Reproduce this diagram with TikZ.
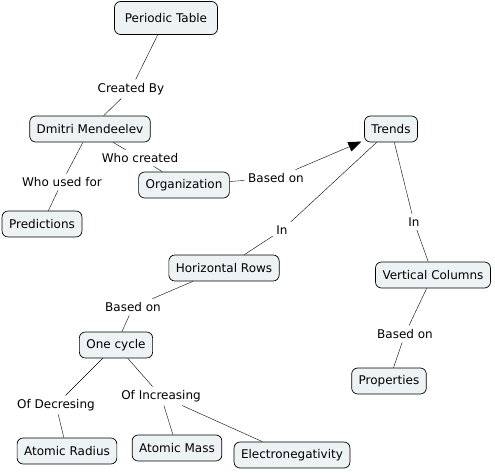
\documentclass[tikz,border=0pt]{standalone}
\usepackage{fontspec}
\setmainfont{DejaVu Sans}
\usetikzlibrary{arrows.meta}
\definecolor{boxfill}{HTML}{EDF2F4}

\begin{document}
\begin{tikzpicture}[x=1pt,y=-1pt,>={Triangle[length=13pt,width=10pt]},
    concept/.style={draw=black,line width=0.7pt,rounded corners=6pt,fill=boxfill,minimum height=26pt,
      inner xsep=7pt,font=\fontsize{12}{14}\selectfont},
    link/.style={inner sep=3.5pt,font=\fontsize{12}{14}\selectfont}]
    \useasboundingbox (0,0) rectangle (495,472);
    % concepts
    \node[concept,minimum width=103pt,minimum height=33pt] (pt) at (166,18) {Periodic Table};
    \node[concept] (dm) at (90,129) {Dmitri Mendeelev};
    \node[concept] (org) at (184,185) {Organization};
    \node[concept] (pred) at (42,224) {Predictions};
    \node[concept] (tr) at (391,129) {Trends};
    \node[concept] (hr) at (224,268) {Horizontal Rows};
    \node[concept] (vc) at (433,275) {Vertical Columns};
    \node[concept] (prop) at (389,381) {Properties};
    \node[concept] (oc) at (116,345) {One cycle};
    \node[concept] (ar) at (67,451) {Atomic Radius};
    \node[concept] (am) at (177,448) {Atomic Mass};
    \node[concept] (en) at (292,455) {Electronegativity};
    % linking phrases
    \node[link] (createdby) at (131,89) {Created By};
    \node[link] (whocreated) at (140,158) {Who created};
    \node[link] (whoused) at (62,182) {Who used for};
    \node[link] (basedA) at (276,178) {Based on};
    \node[link] (inA) at (282,230) {In};
    \node[link] (inB) at (414,222) {In};
    \node[link] (basedB) at (133,307) {Based on};
    \node[link] (basedC) at (405,334) {Based on};
    \node[link] (decr) at (56,405) {Of Decresing};
    \node[link] (incr) at (161,396) {Of Increasing};
    % connectors
    \draw (pt) -- (createdby) -- (dm);
    \draw (dm) -- (whocreated) -- (org);
    \draw (dm) -- (whoused) -- (pred);
    \draw (org) -- (basedA);
    \draw[->,shorten >=3pt] (basedA) -- (tr);
    \draw (tr) -- (inA) -- (hr);
    \draw (tr) -- (inB) -- (vc);
    \draw (hr) -- (basedB) -- (oc);
    \draw (vc) -- (basedC) -- (prop);
    \draw (oc) -- (decr) -- (ar);
    \draw (oc) -- (incr) -- (am);
    \draw (incr) -- (en);
\end{tikzpicture}
\end{document}
